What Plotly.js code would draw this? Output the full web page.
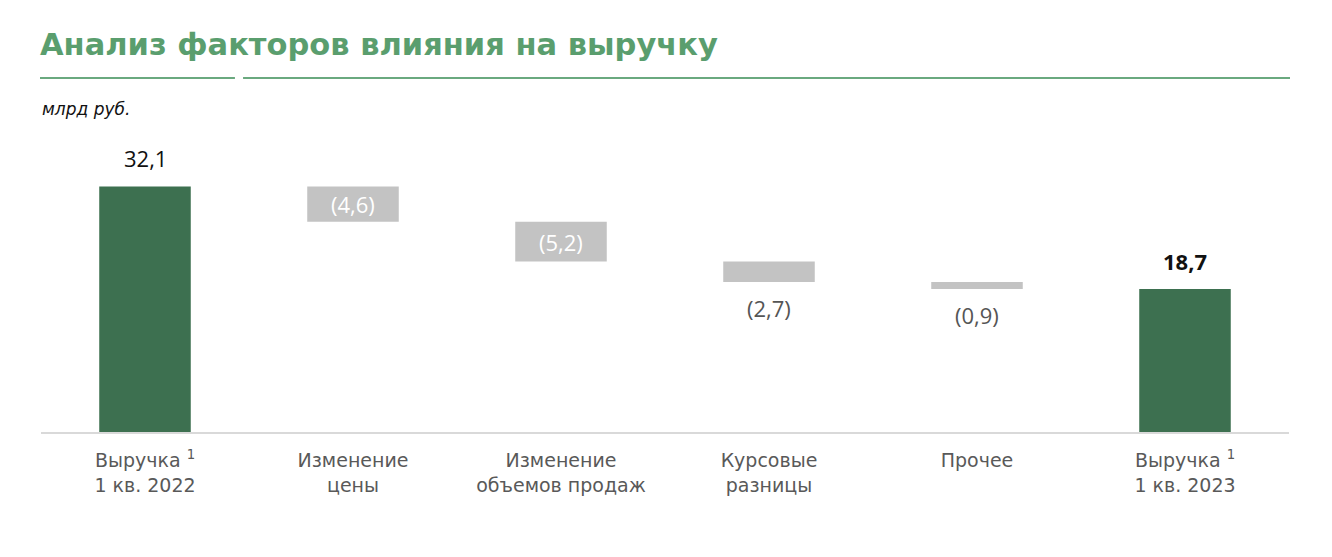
<!DOCTYPE html>
<html>
<head>
<meta charset="utf-8">
<script src="https://cdn.plot.ly/plotly-3.0.1.min.js"></script>
<style>
  html, body { margin: 0; padding: 0; background: #fff; }
  #chart { width: 1332px; height: 557px; }
</style>
</head>
<body>
<div id="chart"></div>
<script>
// revenue bridge, bn rub
var categories = [
  'Выручка <sup>1</sup><br>1 кв. 2022',
  'Изменение<br>цены',
  'Изменение<br>объемов продаж',
  'Курсовые<br>разницы',
  'Прочее',
  'Выручка <sup>1</sup><br>1 кв. 2023'
];
var values = [32.1, -4.6, -5.2, -2.7, -0.9, 18.7];
var measures = ['absolute', 'relative', 'relative', 'relative', 'relative', 'total'];
var valueLabels = ['32,1', '(4,6)', '(5,2)', '(2,7)', '(0,9)', '<b>18,7</b>'];

var green = '#3d7050';
var grey = '#c3c3c3';
var titleGreen = '#5a9e6e';

// work out where each bar starts / ends so the labels can sit on them
var tops = [], bottoms = [];
var running = 0;
for (var i = 0; i < values.length; i++) {
  if (measures[i] === 'absolute') {
    running = values[i];
    bottoms.push(0); tops.push(values[i]);
  } else if (measures[i] === 'total') {
    bottoms.push(0); tops.push(running);
  } else {
    var start = running;
    running += values[i];
    tops.push(Math.max(start, running));
    bottoms.push(Math.min(start, running));
  }
}

var annotations = [];
for (var j = 0; j < values.length; j++) {
  var a = {
    x: categories[j], xref: 'x', yref: 'y',
    text: valueLabels[j], showarrow: false,
    font: {family: 'Open Sans, sans-serif', size: 22, color: '#555555'}
  };
  if (measures[j] !== 'relative') {
    a.y = tops[j]; a.yanchor = 'bottom'; a.yshift = 11;
    a.font.color = '#111111';
  } else if (tops[j] - bottoms[j] > 4) {
    a.y = (tops[j] + bottoms[j]) / 2; a.yanchor = 'middle';
    a.font.color = '#ffffff';
  } else {
    a.y = bottoms[j]; a.yanchor = 'top'; a.yshift = -9;
  }
  annotations.push(a);
}

annotations.push({
  xref: 'paper', yref: 'paper', x: -0.0008, y: 1.056,
  xanchor: 'left', yanchor: 'middle', showarrow: false,
  text: '<i>млрд руб.</i>',
  font: {family: 'DejaVu Sans, sans-serif', size: 17, color: '#111111'}
});

var trace = {
  type: 'waterfall',
  x: categories,
  y: values,
  measure: measures,
  textinfo: 'none',
  totals: {marker: {color: green}},
  decreasing: {marker: {color: grey}},
  increasing: {marker: {color: grey}},
  connector: {visible: false},
  hoverinfo: 'skip'
};

var layout = {
  width: 1332,
  height: 557,
  margin: {l: 41, r: 43, t: 126, b: 125},
  paper_bgcolor: '#ffffff',
  plot_bgcolor: '#ffffff',
  showlegend: false,
  waterfallgap: 0.56,
  title: {
    text: '<b>Анализ факторов влияния на выручку</b>',
    x: 40 / 1332, xref: 'container', xanchor: 'left',
    y: 1 - 44 / 557, yref: 'container', yanchor: 'middle',
    font: {family: 'DejaVu Sans, sans-serif', size: 30.5, color: titleGreen}
  },
  xaxis: {
    type: 'category',
    range: [-0.5, 5.5],
    showline: true, linecolor: '#d9d9d9', linewidth: 2,
    showgrid: false, zeroline: false, ticks: '',
    ticklabelstandoff: 10,
    tickfont: {family: 'DejaVu Sans, sans-serif', size: 19, color: '#595959'}
  },
  yaxis: {
    range: [0, 40],
    visible: false, showgrid: false, zeroline: false
  },
  shapes: [
    {type: 'line', xref: 'paper', yref: 'paper', x0: -0.0008, x1: 0.1554, y0: 1.157, y1: 1.157,
     line: {color: '#6aa97f', width: 2}},
    {type: 'line', xref: 'paper', yref: 'paper', x0: 0.1619, x1: 1.0008, y0: 1.157, y1: 1.157,
     line: {color: '#6aa97f', width: 2}}
  ],
  annotations: annotations
};

Plotly.newPlot('chart', [trace], layout, {displayModeBar: false, staticPlot: true});
</script>
</body>
</html>
